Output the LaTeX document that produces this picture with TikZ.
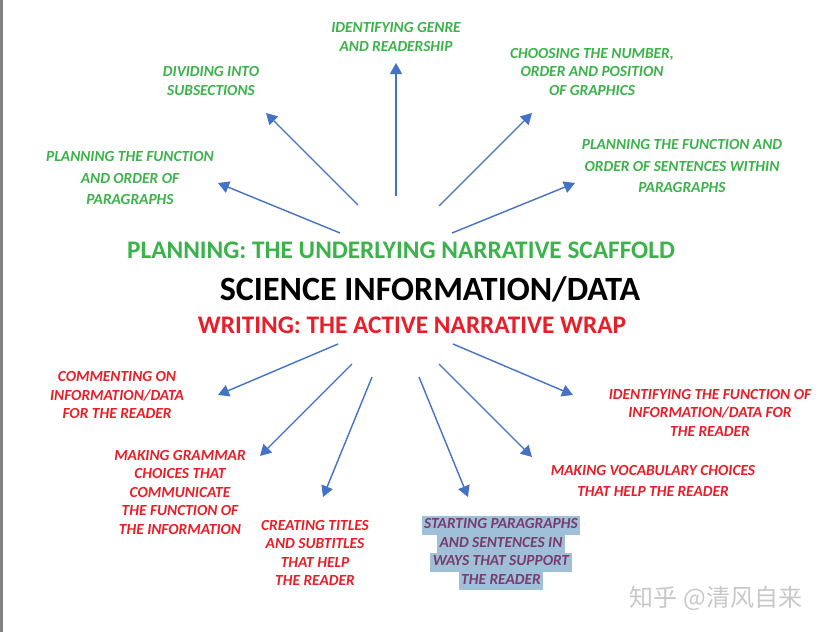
\documentclass[tikz,border=0pt]{standalone}
\usepackage{fontspec}
\setmainfont{Carlito}
\newfontfamily\cjk{Noto Sans CJK SC}
\usepackage{tikz}
\usetikzlibrary{arrows.meta, positioning}
\definecolor{plangreen}{RGB}{59,178,74}
\definecolor{writered}{RGB}{232,30,40}
\definecolor{arrowblue}{RGB}{68,114,196}
\definecolor{hlblue}{RGB}{160,192,218}
\definecolor{hltext}{RGB}{120,60,110}
\definecolor{markgray}{RGB}{200,200,200}
\newcommand{\hlrow}[1]{{\setlength{\fboxsep}{0pt}\colorbox{hlblue}{\strut\,#1\,}}}

\begin{document}
\begin{tikzpicture}[
  x=1pt, y=-1pt,
  plan/.style={
    text=plangreen, font=\fontsize{15.4}{18.5}\selectfont\bfseries\itshape,
    align=center, inner sep=0pt
  },
  write/.style={
    text=writered, font=\fontsize{15.4}{18.5}\selectfont\bfseries\itshape,
    align=center, inner sep=0pt
  },
  wide/.style={font=\fontsize{15.4}{21.5}\selectfont\bfseries\itshape},
  title/.style={font=\fontsize{25.3}{28}\selectfont\bfseries, inner sep=0pt},
  rel/.style={draw=arrowblue, line width=1.4pt, -{Triangle[length=11pt,width=12pt]}}
]

% ── PAGE ─────────────────────────────────────────────────────
\useasboundingbox[fill=white] (0,0) rectangle (825,632);
\fill[gray] (0,0) rectangle (2.5,632);

% ── CENTRE ───────────────────────────────────────────────────

\node[title, text=black, font=\fontsize{34}{36}\selectfont\bfseries] (data) at (430,289) {SCIENCE INFORMATION/DATA};
\node[title, text=plangreen] (scaffold) at (401,250) {PLANNING: THE UNDERLYING NARRATIVE SCAFFOLD};
\node[title, text=writered] (wrap) at (412,325) {WRITING: THE ACTIVE NARRATIVE WRAP};

% ── PLANNING ─────────────────────────────────────────────────

\node[plan] (genre) at (396,37) {IDENTIFYING GENRE\\AND READERSHIP};
\node[plan] (subsec) at (211,81) {DIVIDING INTO\\SUBSECTIONS};
\node[plan] (graphics) at (592,72) {CHOOSING THE NUMBER,\\ORDER AND POSITION\\OF GRAPHICS};
\node[plan, wide] (paraorder) at (130,178.5) {PLANNING THE FUNCTION\\AND ORDER OF\\PARAGRAPHS};
\node[plan, wide] (sentorder) at (682,166.5) {PLANNING THE FUNCTION AND\\ORDER OF SENTENCES WITHIN\\PARAGRAPHS};

% ── WRITING ──────────────────────────────────────────────────

\node[write] (comment) at (117,395) {COMMENTING ON\\INFORMATION/DATA\\FOR THE READER};
\node[write] (grammar) at (180,492) {MAKING GRAMMAR\\CHOICES THAT\\COMMUNICATE\\THE FUNCTION OF\\THE INFORMATION};
\node[write] (titles) at (315,553) {CREATING TITLES\\AND SUBTITLES\\THAT HELP\\THE READER};
\node[write, text=hltext] (starting) at (501,553) {\hlrow{STARTING PARAGRAPHS}\\\hlrow{AND SENTENCES IN}\\\hlrow{WAYS THAT SUPPORT}\\\hlrow{THE READER}};
\node[write, wide] (vocab) at (653,481) {MAKING VOCABULARY CHOICES\\THAT HELP THE READER};
\node[write] (infofn) at (710,412.5) {IDENTIFYING THE FUNCTION OF\\INFORMATION/DATA FOR\\THE READER};

\node[text=markgray, font=\cjk\fontsize{24}{26}\selectfont] (mark) at (716,598) {知乎 @清风自来};

% ── ARROWS ───────────────────────────────────────────────────

\coordinate (genre_s) at (396,196);     \coordinate (genre_e) at (396,63);
\coordinate (subsec_s) at (358,205);    \coordinate (subsec_e) at (266,113);
\coordinate (paraorder_s) at (340,233); \coordinate (paraorder_e) at (218,183);
\coordinate (graphics_s) at (439,206);  \coordinate (graphics_e) at (532,113);
\coordinate (sentorder_s) at (452,233); \coordinate (sentorder_e) at (575,183);
\coordinate (comment_s) at (338,344);   \coordinate (comment_e) at (218,395);
\coordinate (grammar_s) at (352,364);   \coordinate (grammar_e) at (260,456);
\coordinate (titles_s) at (372,377);    \coordinate (titles_e) at (323,497);
\coordinate (starting_s) at (419,377);  \coordinate (starting_e) at (468,497);
\coordinate (vocab_s) at (439,364);     \coordinate (vocab_e) at (532,457);
\coordinate (infofn_s) at (453,344);    \coordinate (infofn_e) at (573,395);

% planning side
\draw[rel] (genre_s) -- (genre_e);
\draw[rel] (subsec_s) -- (subsec_e);
\draw[rel] (paraorder_s) -- (paraorder_e);
\draw[rel] (graphics_s) -- (graphics_e);
\draw[rel] (sentorder_s) -- (sentorder_e);
% writing side
\draw[rel] (comment_s) -- (comment_e);
\draw[rel] (grammar_s) -- (grammar_e);
\draw[rel] (titles_s) -- (titles_e);
\draw[rel] (starting_s) -- (starting_e);
\draw[rel] (vocab_s) -- (vocab_e);
\draw[rel] (infofn_s) -- (infofn_e);

\end{tikzpicture}
\end{document}
